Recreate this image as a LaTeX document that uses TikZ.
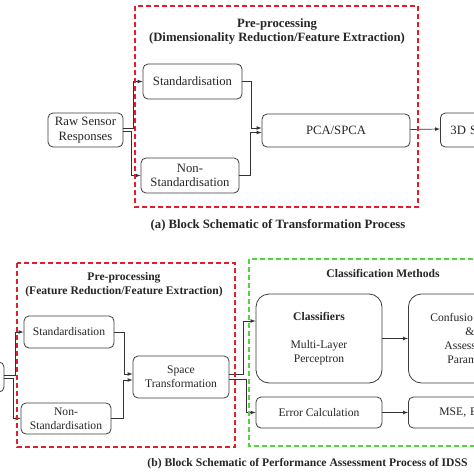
\documentclass[tikz,border=0pt]{standalone}
\usepackage{fontspec}
\setmainfont{Liberation Serif}
\usepackage{tikz}
\usetikzlibrary{calc, arrows, positioning}
\tikzset{>=latex}
\definecolor{dashred}{RGB}{222, 32, 44}
\definecolor{dashgreen}{RGB}{78, 214, 58}
\definecolor{boxgray}{RGB}{60, 60, 60}
\newcommand{\txtfont}{\fontsize{12.7}{14.5}\selectfont}
\newcommand{\txtfontb}{\fontsize{11.6}{13.7}\selectfont}
\tikzset{
  blockbox/.style = {draw = boxgray, line width = 0.8pt, rounded corners = 5pt, align = center, inner sep = 0pt, font = \txtfont, text = black!85},
  blockboxb/.style = {blockbox, font = \txtfontb},
  bigbox/.style = {blockboxb, rounded corners = 13pt},
  label/.style = {align = center, inner sep = 0pt, font = \txtfont\bfseries, text = black!85},
  labelb/.style = {label, font = \txtfontb\bfseries},
  link/.style = {->, draw = black!80, line width = 0.7pt},
  groupbox/.style = {line width = 2pt, dash pattern = on 5pt off 3pt}
}

\begin{document}
\begin{tikzpicture}[x = 1pt, y = -1pt]
\useasboundingbox (0, 0) rectangle (474, 474);
\clip (0, 0) rectangle (474, 474);
\fill[white] (0, 0) rectangle (474, 474);

% (a) transformation process
\node[blockbox, minimum width = 75, minimum height = 34] (raw) at (85.5, 130) {Raw Sensor\\Responses};
\node[blockbox, minimum width = 99, minimum height = 35] (std) at (192.5, 81.5) {Standardisation};
\node[blockbox, minimum width = 98, minimum height = 35] (nonstd) at (190, 175.5) {Non-\\Standardisation};
\node[blockbox, minimum width = 148, minimum height = 33] (pca) at (336, 130.5) {PCA/SPCA};
\node[blockbox, anchor = west, minimum height = 34, text width = 80, inner xsep = 10pt, align = left] (space) at (440, 130) {3D S};
\node[label] (pretitle) at (277, 31.5) {Pre-processing\\(Dimensionality Reduction/Feature Extraction)};
\node[label] (capa) at (278, 225) {(a) Block Schematic of Transformation Process};

\draw[link] ([yshift = 1.5pt]raw.east) -- ++(10, 0) |- (std.west);
\draw[link] ([yshift = -1.5pt]raw.east) -- ++(8, 0) |- (nonstd.west);
\draw[link] (std.east) -- ++(9, 0) |- ([yshift = 2.5pt]pca.west);
\draw[link] (nonstd.east) -- ++(11, 0) |- ([yshift = -2pt]pca.west);
\draw[link] ([yshift = 1pt]pca.east) -- ([yshift = 1pt]space.west);

\draw[dashred, groupbox] (135, 6) rectangle (418, 207);

% (b) performance assessment process
\node[blockboxb, minimum width = 60, minimum height = 30] (rawb) at (-26, 377) {};
\node[blockboxb, minimum width = 90, minimum height = 32] (stdb) at (69, 332) {Standardisation};
\node[blockboxb, minimum width = 90, minimum height = 31] (nonstdb) at (66, 418.5) {Non-\\Standardisation};
\node[blockboxb, minimum width = 96, minimum height = 42] (trans) at (181, 377) {Space\\Transformation};
\node[bigbox, minimum width = 126, minimum height = 89] (clf) at (319, 338.5) {\textbf{Classifiers}\\[14pt]Multi-Layer\\Perceptron};
\node[bigbox, anchor = west, minimum height = 89, text width = 80, inner xsep = 22pt, align = left] (conf) at (408, 338.5) {Confusio\\[0.5pt]\hspace*{35pt}\&\\[0.5pt]\hspace*{14pt}Assess\\[0.5pt]\hspace*{17pt}Param};
\node[blockboxb, minimum width = 126, minimum height = 31] (err) at (319, 412.5) {Error Calculation};
\node[blockboxb, anchor = west, minimum height = 31, text width = 80, inner xsep = 31pt, align = left] (mse) at (408, 412.5) {MSE, E};
\node[labelb] (pretitleb) at (124, 285) {Pre-processing\\(Feature Reduction/Feature Extraction)};
\node[labelb] (clstitle) at (383, 273) {Classification Methods};
\node[labelb] (capb) at (307.5, 464) {(b) Block Schematic of Performance Assessment Process of IDSS};

\draw[link] ([yshift = 1.5pt]rawb.east) -- ++(11, 0) |- (stdb.west);
\draw[link] ([yshift = -1.5pt]rawb.east) -- ++(9, 0) |- (nonstdb.west);
\draw[link] (stdb.east) -- ++(10, 0) |- ([yshift = 3pt]trans.west);
\draw[link] (nonstdb.east) -- ++(12, 0) |- ([yshift = -3pt]trans.west);
\draw[link] ([yshift = 3pt]trans.east) -- ++(14, 0) |- ([yshift = 17.5pt]clf.west);
\draw[link] ([yshift = -2pt]trans.east) -- ++(17, 0) |- (err.west);
\draw[link] (clf.east) -- (conf.west);
\draw[link] (err.east) -- (mse.west);

\draw[dashred, groupbox] (17, 263) rectangle (235, 447);
\draw[dashgreen, groupbox] (249, 259) rectangle (490, 446);
\end{tikzpicture}
\end{document}
